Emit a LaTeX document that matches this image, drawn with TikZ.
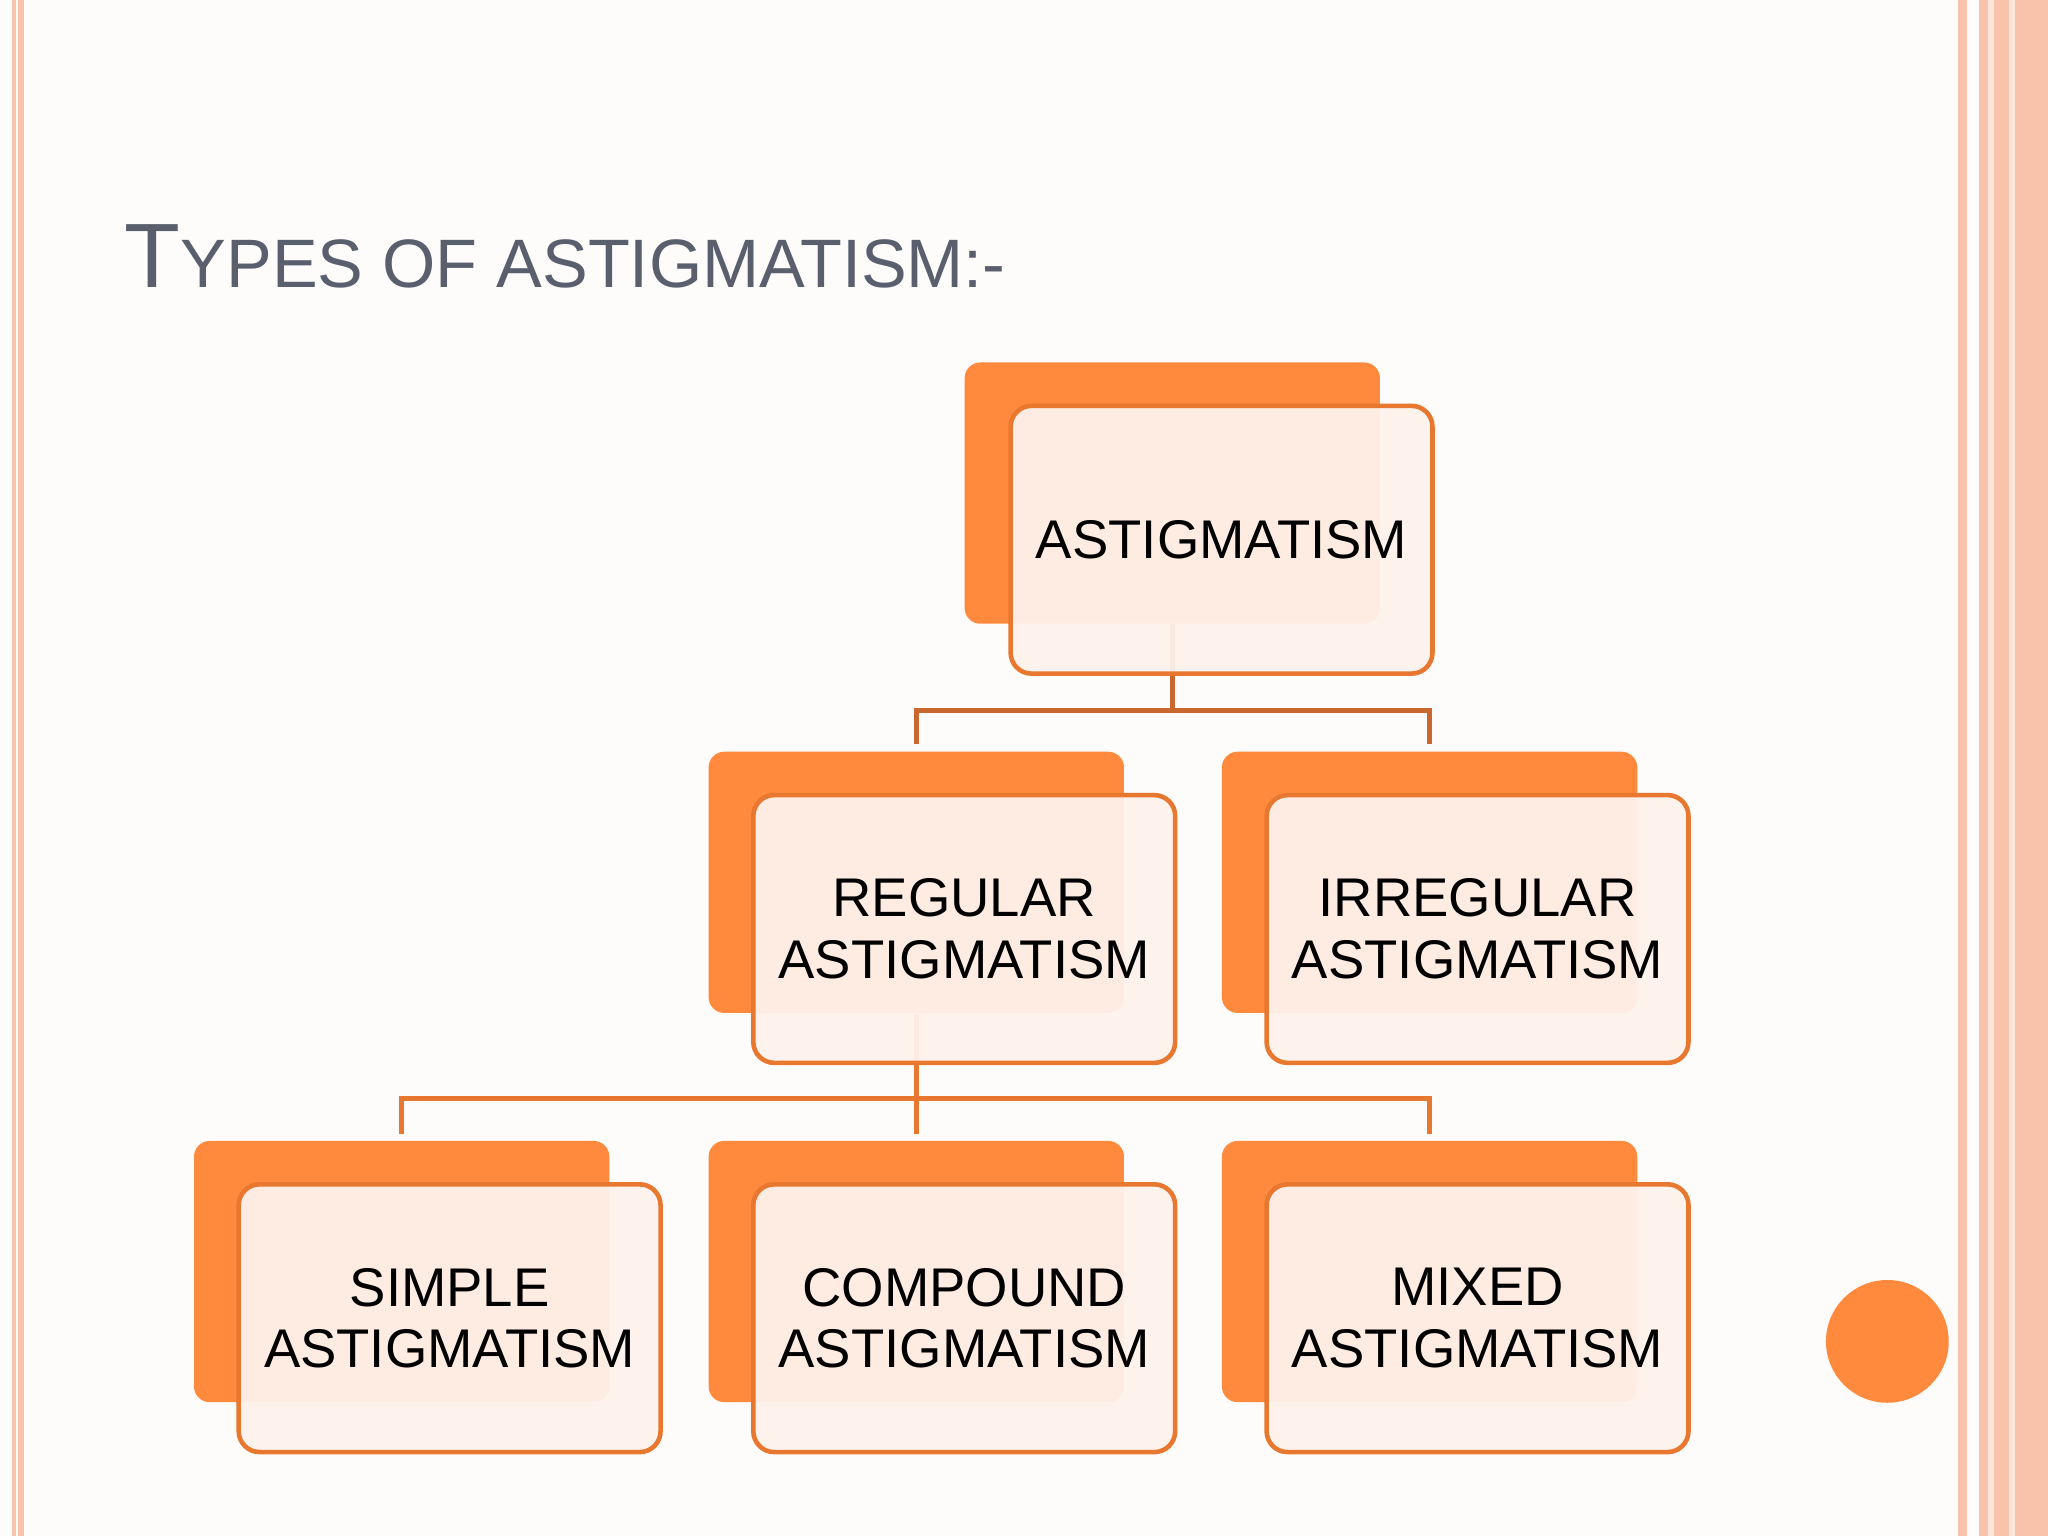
\documentclass[tikz,border=0pt]{standalone}
\usepackage{fontspec}
\setmainfont{Liberation Sans}
\usetikzlibrary{calc,positioning}
\definecolor{bgpaper}{HTML}{FDFCFA}
\definecolor{rim}{HTML}{F9C2AA}
\definecolor{boxorange}{HTML}{FF8A3D}
\definecolor{boxpeach}{HTML}{FEF2EC}
\definecolor{linkdark}{HTML}{C8682E}
\definecolor{linkorange}{HTML}{E8772F}
\definecolor{titlegrey}{HTML}{5A5F6E}
\def\u{0.01306cm}
\tikzset{
  backbox/.style={fill=boxorange,rounded corners=12*\u,minimum width=318*\u,minimum height=200*\u,anchor=north west,inner sep=0pt},
  frontbox/.style={draw=linkorange,line width=3.5*\u,fill=boxpeach,fill opacity=0.94,text opacity=1,rounded corners=16*\u,minimum width=323*\u,minimum height=205*\u,anchor=north west,align=center,font=\fontsize{15.5pt}{17.5pt}\selectfont,inner sep=0pt},
  link/.style={line width=3.5*\u}
}
\begin{document}
\begin{tikzpicture}[x=\u,y=-\u]
\fill[bgpaper] (0,0) rectangle (1568,1176);
\useasboundingbox (0,0) rectangle (1568,1176);
%frame
\fill[rim] (9,0) rectangle (12,1176);
\fill[rim] (14,0) rectangle (18,1176);
\fill[rim] (1499,0) rectangle (1506,1176);
\fill[rim] (1515,0) rectangle (1568,1176);
\fill[bgpaper!60!rim] (1522,0) rectangle (1527,1176);
\fill[bgpaper!60!rim] (1538,0) rectangle (1543,1176);
%title
\node[anchor=base west,text=titlegrey,inner sep=0pt] (title) at (95,220)
  {\fontsize{26pt}{28pt}\selectfont T\fontsize{19.5pt}{22pt}\selectfont YPES OF ASTIGMATISM:-};
%back boxes
\node[backbox] (astB) at (738,277) {};
\node[backbox] (regB) at (542,575) {};
\node[backbox] (irrB) at (935,575) {};
\node[backbox] (simB) at (148,873) {};
\node[backbox] (comB) at (542,873) {};
\node[backbox] (mixB) at (935,873) {};
%links
\draw[link,linkdark] (astB.south) -- ++(0,66) coordinate (j1);
\draw[link,linkdark] (j1) -| ($(regB.north)+(0,-5)$);
\draw[link,linkdark] (j1) -| ($(irrB.north)+(0,-5)$);
\draw[link,linkorange] (regB.south) -- ++(0,65) coordinate (j2);
\draw[link,linkorange] (j2) -| ($(simB.north)+(0,-5)$);
\draw[link,linkorange] (j2) -- ($(comB.north)+(0,-5)$);
\draw[link,linkorange] (j2) -| ($(mixB.north)+(0,-5)$);
%front boxes
\node[frontbox] (ast) at (772,309) {ASTIGMATISM};
\node[frontbox] (reg) at (575,607) {REGULAR\\ASTIGMATISM};
\node[frontbox] (irr) at (968,607) {IRREGULAR\\ASTIGMATISM};
\node[frontbox] (sim) at (181,905) {SIMPLE\\ASTIGMATISM};
\node[frontbox] (com) at (575,905) {COMPOUND\\ASTIGMATISM};
\node[frontbox] (mix) at (968,905) {MIXED\\ASTIGMATISM};
%dot
\fill[boxorange] (1445,1027) circle (47);
\end{tikzpicture}
\end{document}
